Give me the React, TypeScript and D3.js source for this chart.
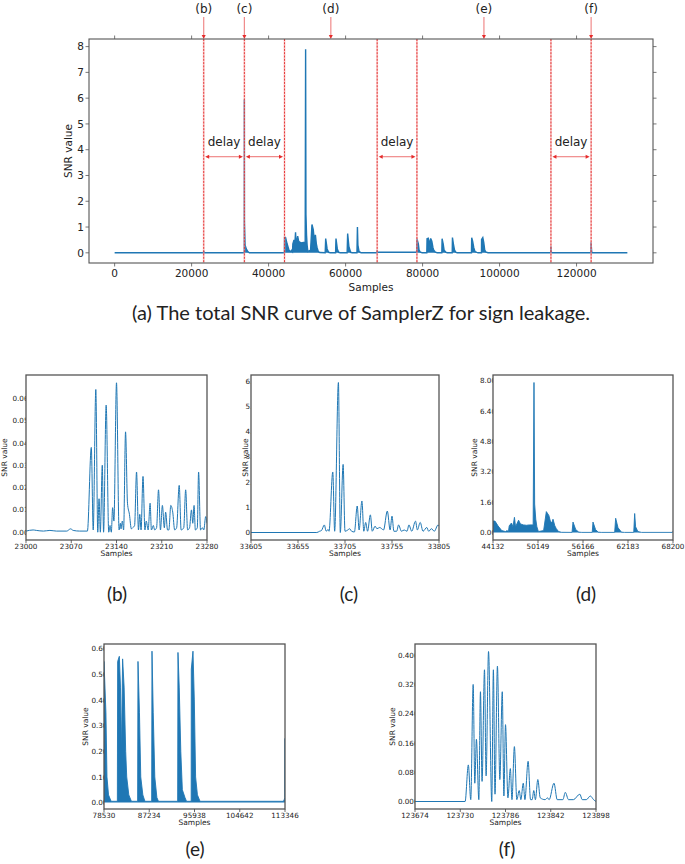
import React from 'react';
import * as d3 from 'd3';

type Pt = [number, number];

// ---------- (a) overview ----------
const overviewXTicks = [0, 20000, 40000, 60000, 80000, 100000, 120000];
const overviewYTicks = [0, 1, 2, 3, 4, 5, 6, 7, 8];
const overviewEnvelope: Pt[] = [
  [0, 0.005], [23100, 0.005], [23130, 0.07], [23300, 0.005], [33680, 0.005], [33698, 5.95], [33720, 1.2],
  [33900, 0.3], [34200, 0.15], [34600, 0.05], [35000, 0.005], [44100, 0.005], [44132, 0.6], [44400, 0.6],
  [44800, 0.35], [45300, 0.1], [45800, 0.05], [46000, 0.1], [46200, 0.05], [46300, 0.35], [46600, 0.5],
  [46800, 0.3], [47000, 0.8], [47150, 0.3], [47550, 0.65], [47800, 0.45], [48200, 0.4], [48600, 0.38],
  [49000, 0.4], [49500, 0.4], [49614, 7.9], [49700, 1.5], [49850, 0.7], [50000, 0.3], [50200, 0.05],
  [50900, 0.1], [51263, 1.1], [51600, 0.9], [51800, 0.6], [52000, 0.5], [52155, 0.7], [52400, 0.35],
  [52600, 0.2], [52900, 0.05], [53300, 0.01], [54700, 0.005], [54829, 0.55], [55200, 0.15], [55600, 0.02],
  [56000, 0.005], [57400, 0.005], [57503, 0.55], [57850, 0.15], [58200, 0.02], [58600, 0.005],
  [60400, 0.005], [60534, 0.75], [60850, 0.25], [61300, 0.02], [61700, 0.005], [62950, 0.005],
  [63074, 1.0], [63200, 0.3], [63500, 0.05], [64000, 0.005], [68100, 0.005], [68200, 0.06], [68350, 0.02],
  [78450, 0.02], [78530, 0.55], [78900, 0.35], [79100, 0.1], [79400, 0.03], [79900, 0.005], [81100, 0.005],
  [81158, 0.55], [81479, 0.57], [81700, 0.45], [81900, 0.2], [82108, 0.56], [82400, 0.45], [82700, 0.2],
  [82900, 0.1], [83300, 0.03], [83800, 0.005], [85000, 0.005], [85068, 0.55], [85350, 0.35], [85600, 0.1],
  [86000, 0.03], [86400, 0.005], [87700, 0.005], [87760, 0.59], [88000, 0.35], [88300, 0.1], [88700, 0.02],
  [89000, 0.005], [92700, 0.005], [92760, 0.585], [93000, 0.45], [93300, 0.2], [93600, 0.05], [94100, 0.02],
  [94400, 0.005], [95300, 0.005], [95324, 0.52], [95645, 0.59], [95900, 0.4], [96150, 0.1], [96500, 0.03],
  [97000, 0.005], [113050, 0.005], [113200, 0.012], [113300, 0.02], [113346, 0.25], [113400, 0.05],
  [113600, 0.005], [123730, 0.005], [123765, 0.41], [123900, 0.1], [124000, 0.005], [133200, 0.005],
];
const markerLabels = ['(b)', '(c)', '(d)', '(e)', '(f)'];
const markerSamples = [23140, 33705, 56166, 95938, 123786];
const boundarySamples = [23140, 33705, 44132, 68200, 78530, 113346, 123786];
const delayStarts = [23140, 33705, 68200, 113346];
const delayEnds = [33705, 44132, 78530, 123786];

// ---------- (b) ----------
const zoomBXTicks = [23000, 23070, 23140, 23210, 23280];
const zoomBYTicks = [0, 0.01, 0.02, 0.03, 0.04, 0.05, 0.06];
const zoomBYLabels = ['0.00', '0.01', '0.02', '0.03', '0.04', '0.05', '0.06'];
const zoomBSeries: Pt[] = [
  [23000, 0.0005], [23011, 0.001], [23016, 0.0008], [23027, 0.0005], [23037, 0.0008], [23047, 0.0005],
  [23063, 0.0005], [23069, 0.0015], [23073, 0.0008], [23083, 0.0005], [23095, 0.0005], [23101, 0.038],
  [23104, 0.001], [23108, 0.064], [23111, 0.0], [23113, 0.015], [23115, 0.0], [23118, 0.03], [23120, 0.0],
  [23124, 0.057], [23128, 0.0], [23130, 0.003], [23132, 0.0], [23134, 0.011], [23136, 0.005], [23140, 0.067],
  [23144, 0.001], [23146, 0.004], [23147, 0.0015], [23149, 0.005], [23151, 0.001], [23154, 0.045],
  [23157, 0.013], [23160, 0.008], [23163, 0.0015], [23165, 0.002], [23168, 0.003], [23171, 0.027],
  [23174, 0.001], [23176, 0.008], [23178, 0.001], [23181, 0.025], [23184, 0.001], [23186, 0.005],
  [23189, 0.001], [23192, 0.013], [23194, 0.001], [23197, 0.003], [23199, 0.001], [23202, 0.002],
  [23205, 0.019], [23208, 0.001], [23211, 0.012], [23214, 0.002], [23216, 0.009], [23219, 0.001],
  [23221, 0.001], [23224, 0.012], [23227, 0.009], [23230, 0.001], [23233, 0.002], [23237, 0.021],
  [23240, 0.001], [23244, 0.002], [23247, 0.019], [23250, 0.001], [23253, 0.002], [23256, 0.01],
  [23258, 0.004], [23260, 0.012], [23262, 0.001], [23265, 0.002], [23267, 0.027], [23270, 0.001],
  [23273, 0.002], [23275, 0.001], [23278, 0.007], [23280, 0.004],
];

// ---------- (c) ----------
const zoomCXTicks = [33605, 33655, 33705, 33755, 33805];
const zoomCYTicks = [0, 1, 2, 3, 4, 5, 6];
const zoomCYLabels = ['0.0', '1.0', '2.0', '3.0', '4.0', '5.0', '6.0'];
const zoomCSeries: Pt[] = [
  [33605, 0], [33675, 0], [33678, 0.05], [33680, 0.08], [33683, 0.3], [33685, 0.05], [33687, 0.12],
  [33688, 0.05], [33692, 2.4], [33694, 0.05], [33698, 5.95], [33700, 0.0], [33703, 2.7], [33705, 0.05],
  [33708, 0.1], [33710, 0.15], [33712, 0.05], [33715, 0.02], [33718, 1.05], [33720, 0.1], [33723, 1.25],
  [33725, 0.05], [33727, 0.4], [33729, 0.05], [33732, 0.7], [33734, 0.05], [33737, 0.25], [33739, 0.15],
  [33742, 0.2], [33744, 0.15], [33746, 0.1], [33750, 0.85], [33753, 0.1], [33755, 0.65], [33757, 0.05],
  [33760, 0.05], [33762, 0.3], [33765, 0.05], [33768, 0.1], [33771, 0.05], [33773, 0.3], [33776, 0.05],
  [33780, 0.45], [33782, 0.1], [33785, 0.4], [33788, 0.05], [33792, 0.2], [33794, 0.05], [33797, 0.15],
  [33800, 0.05], [33804, 0.3], [33805, 0.25],
];

// ---------- (d) ----------
const zoomDXTicks = [44132, 50149, 56166, 62183, 68200];
const zoomDYTicks = [0, 1.6, 3.2, 4.8, 6.4, 8.0];
const zoomDYLabels = ['0.00', '1.60', '3.20', '4.80', '6.40', '8.00'];

// ---------- (e) ----------
const zoomEXTicks = [78530, 87234, 95938, 104642, 113346];
const zoomEYTicks = [0, 0.1, 0.2, 0.3, 0.4, 0.5, 0.6];
const zoomEYLabels = ['0.00', '0.10', '0.20', '0.30', '0.40', '0.50', '0.60'];

// ---------- (f) ----------
const zoomFXTicks = [123674, 123730, 123786, 123842, 123898];
const zoomFYTicks = [0, 0.08, 0.16, 0.24, 0.32, 0.4];
const zoomFYLabels = ['0.000', '0.080', '0.160', '0.240', '0.320', '0.400'];
const zoomFSeries: Pt[] = [
  [123674, 0], [123736, 0], [123740, 0.1], [123743, 0.005], [123746, 0.32], [123748, 0.05], [123750, 0.17],
  [123753, 0.005], [123755, 0.3], [123757, 0.055], [123760, 0.36], [123762, 0.07], [123765, 0.41],
  [123769, 0.0], [123771, 0.36], [123773, 0.02], [123776, 0.37], [123779, 0.06], [123782, 0.3],
  [123784, 0.015], [123786, 0.21], [123789, 0.01], [123792, 0.09], [123794, 0.005], [123797, 0.15],
  [123800, 0.005], [123803, 0.03], [123805, 0.005], [123808, 0.05], [123810, 0.005], [123814, 0.11],
  [123817, 0.005], [123819, 0.005], [123821, 0.03], [123823, 0.005], [123826, 0.06], [123829, 0.01],
  [123835, 0.005], [123838, 0.01], [123840, 0.005], [123846, 0.05], [123850, 0.005], [123857, 0.005],
  [123860, 0.025], [123864, 0.005], [123870, 0.005], [123878, 0.02], [123881, 0.005], [123886, 0.005],
  [123891, 0.015], [123895, 0.005], [123898, 0.0],
];

const BLUE = '#1f77b4';
const TICKFONT = 'DejaVu Sans, sans-serif';
const CAPFONT = 'Lato, Open Sans, sans-serif';

type Box = { left: number; right: number; top: number; bottom: number };

function Panel(props: {
  id: string; box: Box; xDomain: [number, number]; yDomain: [number, number];
  xTicks: number[]; yTicks: number[]; yLabels: string[]; series: Pt[]; kind: 'line' | 'area';
  yLabelX: number; labelEnd: number; caption: string; captionX: number; captionY: number;
}) {
  const { id, box, xDomain, yDomain, xTicks, yTicks, yLabels, series, kind, yLabelX, labelEnd, caption, captionX, captionY } = props;
  const x = d3.scaleLinear().domain(xDomain).range([box.left, box.right]);
  const y = d3.scaleLinear().domain(yDomain).range([box.bottom, box.top]);
  const line = d3.line<Pt>().x(d => x(d[0])).y(d => y(d[1])).curve(kind === 'line' ? d3.curveMonotoneX : d3.curveLinear);
  const area = d3.area<Pt>().x(d => x(d[0])).y0(y(0)).y1(d => y(d[1]));
  const w = box.right - box.left;
  const h = box.bottom - box.top;
  const fs = 7.2;
  return (
    <g>
      {yTicks.map((t, i) => (
        <text key={'yl' + i} x={box.left + labelEnd} y={y(t)} dy="0.36em" textAnchor="end" fontSize={fs} fontFamily={TICKFONT} fill="#222">{yLabels[i]}</text>
      ))}
      <rect x={box.left} y={box.top} width={w} height={h} fill="#fff" />
      <clipPath id={id}><rect x={box.left} y={box.top} width={w} height={h} /></clipPath>
      <g clipPath={`url(#${id})`}>
        {kind === 'area' && <path d={area(series) || ''} fill={BLUE} />}
        <path d={line(series) || ''} fill="none" stroke={BLUE} strokeWidth={kind === 'line' ? 1 : 0.9} />
      </g>
      <rect x={box.left} y={box.top} width={w} height={h} fill="none" stroke="#555" strokeWidth={1.3} />
      {xTicks.map((t, i) => (
        <g key={'xt' + i}>
          <line x1={x(t)} x2={x(t)} y1={box.bottom} y2={box.bottom + 3} stroke="#444" strokeWidth={0.8} />
          <text x={x(t)} y={box.bottom + 8.5} textAnchor="middle" fontSize={fs} fontFamily={TICKFONT} fill="#222">{t}</text>
        </g>
      ))}
      <text x={(box.left + box.right) / 2} y={box.bottom + 15.8} textAnchor="middle" fontSize={7.5} fontFamily={TICKFONT} fill="#222">Samples</text>
      <text transform={`translate(${yLabelX},${(box.top + box.bottom) / 2}) rotate(-90)`} dy="0.36em" textAnchor="middle" fontSize={7.5} fontFamily={TICKFONT} fill="#222">SNR value</text>
      <text x={captionX} y={captionY} textAnchor="middle" fontSize={19} fontFamily={CAPFONT} fill="#222">{caption}</text>
    </g>
  );
}

function Overview() {
  const box: Box = { left: 89, right: 653, top: 39, bottom: 263 };
  const x = d3.scaleLinear().domain([-6660, 139860]).range([box.left, box.right]);
  const y = d3.scaleLinear().domain([-0.395, 8.295]).range([box.bottom, box.top]);
  const area = d3.area<Pt>().x(d => x(d[0])).y0(y(0)).y1(d => y(d[1]));
  const line = d3.line<Pt>().x(d => x(d[0])).y(d => y(d[1]));
  const w = box.right - box.left;
  const h = box.bottom - box.top;
  const red = '#e52b2b';
  const pink = '#f4a3a3';
  const delayY = y(3.73);
  return (
    <g>
      <rect x={box.left} y={box.top} width={w} height={h} fill="#fff" />
      <path d={area(overviewEnvelope) || ''} fill={BLUE} />
      <path d={line(overviewEnvelope) || ''} fill="none" stroke={BLUE} strokeWidth={1.4} />
      {boundarySamples.map((s, i) => (
        <g key={'b' + i}>
          <line x1={x(s)} x2={x(s)} y1={box.top} y2={box.bottom} stroke={pink} strokeWidth={1.8} opacity={0.6} />
          <line x1={x(s)} x2={x(s)} y1={box.top} y2={box.bottom} stroke={red} strokeWidth={0.9} strokeDasharray="2 1.3" />
        </g>
      ))}
      {delayStarts.map((s, i) => {
        const x0 = x(s) + 1.5;
        const x1 = x(delayEnds[i]) - 1.5;
        return (
          <g key={'d' + i}>
            <line x1={x0 + 3} x2={x1 - 3} y1={delayY} y2={delayY} stroke="#f08a8a" strokeWidth={1.2} />
            <path d={`M${x0},${delayY}L${x0 + 4},${delayY - 2}L${x0 + 4},${delayY + 2}Z`} fill={red} />
            <path d={`M${x1},${delayY}L${x1 - 4},${delayY - 2}L${x1 - 4},${delayY + 2}Z`} fill={red} />
            <text x={(x0 + x1) / 2} y={delayY - 10.5} textAnchor="middle" fontSize={12} fontFamily={TICKFONT} fill="#222">delay</text>
          </g>
        );
      })}
      {markerSamples.map((s, i) => (
        <g key={'m' + i}>
          <line x1={x(s)} x2={x(s)} y1={17} y2={35} stroke="#f08a8a" strokeWidth={1.2} />
          <path d={`M${x(s)},${box.top}L${x(s) - 2},${box.top - 4}L${x(s) + 2},${box.top - 4}Z`} fill={red} />
          <text x={x(s)} y={12.5} textAnchor="middle" fontSize={12} fontFamily={TICKFONT} fill="#222">{markerLabels[i]}</text>
        </g>
      ))}
      <rect x={box.left} y={box.top} width={w} height={h} fill="none" stroke="#555" strokeWidth={1.1} />
      {overviewXTicks.map((t, i) => (
        <g key={'xt' + i}>
          <line x1={x(t)} x2={x(t)} y1={box.bottom} y2={box.bottom + 3.5} stroke="#555" strokeWidth={0.8} />
          <line x1={x(t)} x2={x(t)} y1={box.top} y2={box.top - 3.5} stroke="#555" strokeWidth={0.8} />
          <text x={x(t)} y={box.bottom + 14} textAnchor="middle" fontSize={10.5} fontFamily={TICKFONT} fill="#222">{t}</text>
        </g>
      ))}
      {overviewYTicks.map((t, i) => (
        <g key={'yt' + i}>
          <line x1={box.left} x2={box.left - 3.5} y1={y(t)} y2={y(t)} stroke="#555" strokeWidth={0.8} />
          <line x1={box.right} x2={box.right + 3.5} y1={y(t)} y2={y(t)} stroke="#555" strokeWidth={0.8} />
          <text x={box.left - 5} y={y(t)} dy="0.36em" textAnchor="end" fontSize={10.5} fontFamily={TICKFONT} fill="#222">{t}</text>
        </g>
      ))}
      <text x={(box.left + box.right) / 2} y={290.5} textAnchor="middle" fontSize={10.5} fontFamily={TICKFONT} fill="#222">Samples</text>
      <text transform={`translate(68,${(box.top + box.bottom) / 2}) rotate(-90)`} dy="0.36em" textAnchor="middle" fontSize={10.5} fontFamily={TICKFONT} fill="#222">SNR value</text>
      <text x={361} y={320} textAnchor="middle" fontSize={19} fontFamily={CAPFONT} fill="#222" textLength={458} lengthAdjust="spacingAndGlyphs">(a) The total SNR curve of SamplerZ for sign leakage.</text>
    </g>
  );
}

export default function App() {
  return (
    <svg width={685} height={864} viewBox="0 0 685 864" style={{ position: 'absolute', left: 0, top: 0, background: '#fff' }}>
      <rect x={0} y={0} width={685} height={864} fill="#fff" />
      <Overview />
      <Panel id="pb" box={{ left: 26, right: 207, top: 375, bottom: 540 }} xDomain={[23000, 23280]} yDomain={[-0.0035, 0.0705]}
        xTicks={zoomBXTicks} yTicks={zoomBYTicks} yLabels={zoomBYLabels} series={zoomBSeries} kind="line"
        yLabelX={4} labelEnd={2.5} caption="(b)" captionX={117} captionY={601} />
      <Panel id="pc" box={{ left: 251, right: 439, top: 375, bottom: 540 }} xDomain={[33605, 33805]} yDomain={[-0.2975, 6.2475]}
        xTicks={zoomCXTicks} yTicks={zoomCYTicks} yLabels={zoomCYLabels} series={zoomCSeries} kind="line"
        yLabelX={245} labelEnd={6} caption="(c)" captionX={349} captionY={601} />
      <Panel id="pd" box={{ left: 493, right: 673, top: 375, bottom: 540 }} xDomain={[44132, 68200]} yDomain={[-0.395, 8.295]}
        xTicks={zoomDXTicks} yTicks={zoomDYTicks} yLabels={zoomDYLabels} series={overviewEnvelope} kind="area"
        yLabelX={474} labelEnd={3} caption="(d)" captionX={586} captionY={601} />
      <Panel id="pe" box={{ left: 104, right: 285, top: 644, bottom: 809 }} xDomain={[78530, 113346]} yDomain={[-0.025, 0.618]}
        xTicks={zoomEXTicks} yTicks={zoomEYTicks} yLabels={zoomEYLabels} series={overviewEnvelope} kind="area"
        yLabelX={85} labelEnd={3.4} caption="(e)" captionX={195} captionY={856} />
      <Panel id="pf" box={{ left: 415, right: 596, top: 644, bottom: 809 }} xDomain={[123674, 123898]} yDomain={[-0.0205, 0.4305]}
        xTicks={zoomFXTicks} yTicks={zoomFYTicks} yLabels={zoomFYLabels} series={zoomFSeries} kind="line"
        yLabelX={392} labelEnd={3.5} caption="(f)" captionX={507} captionY={856} />
    </svg>
  );
}
